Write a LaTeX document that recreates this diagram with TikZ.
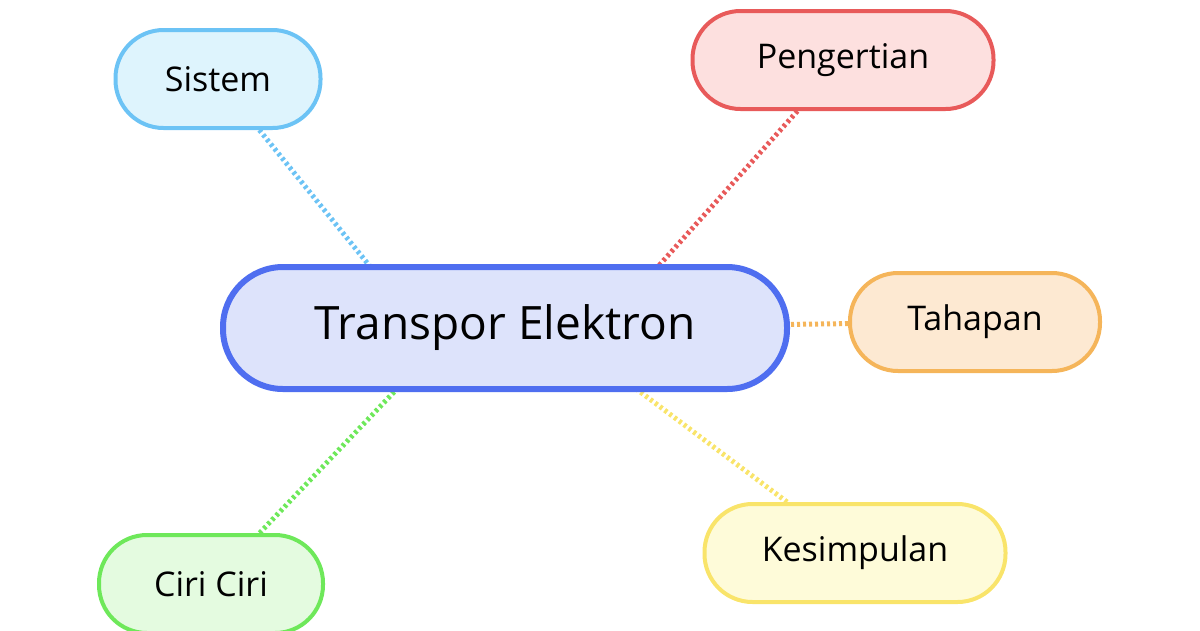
\documentclass[tikz,border=0pt]{standalone}
\usepackage{fontspec}
\setmainfont{Open Sans}
\usetikzlibrary{backgrounds}
\definecolor{cbF}{HTML}{DDE3FB}\definecolor{cbD}{HTML}{4F6EF0}
\definecolor{sF}{HTML}{DEF4FD}\definecolor{sD}{HTML}{6CC3F5}
\definecolor{pF}{HTML}{FDE0DF}\definecolor{pD}{HTML}{E85A5A}
\definecolor{tF}{HTML}{FDE9D2}\definecolor{tD}{HTML}{F5B55A}
\definecolor{kF}{HTML}{FEFBD9}\definecolor{kD}{HTML}{F9E46A}
\definecolor{gF}{HTML}{E4FBE0}\definecolor{gD}{HTML}{6EE85A}
\tikzset{
 leaf/.style={draw=#1D, fill=#1F, line width=4pt, rounded corners=48pt, minimum height=98pt, font=\fontsize{34}{40}\selectfont, inner sep=0pt},
 link/.style={draw=#1D, line width=5pt, dash pattern=on 3pt off 3pt}
}
\begin{document}
\begin{tikzpicture}[x=1pt,y=-1pt]
\useasboundingbox (0,0) rectangle (1200,630);
\node[draw=cbD, fill=cbF, line width=6pt, rounded corners=60pt, minimum width=564pt, minimum height=122pt, font=\fontsize{46}{54}\selectfont] (c) at (505,328) {Transpor Elektron};
\node[leaf=s, minimum width=205pt] (s) at (218,79) {Sistem};
\node[leaf=p, minimum width=301pt] (p) at (843,60) {Pengertian};
\node[leaf=t, minimum width=250pt] (t) at (975,322) {Tahapan};
\node[leaf=k, minimum width=301pt] (k) at (855,553) {Kesimpulan};
\node[leaf=g, minimum width=224pt] (g) at (211,584) {Ciri Ciri};
\begin{pgfonlayer}{background}
\draw[link=s] (s) -- (420,328);
\draw[link=p] (p) -- (603,328);
\draw[link=t] (t) -- (c);
\draw[link=k] (k) -- (555,328);
\draw[link=g] (g) -- (455,328);
\end{pgfonlayer}
\end{tikzpicture}
\end{document}
